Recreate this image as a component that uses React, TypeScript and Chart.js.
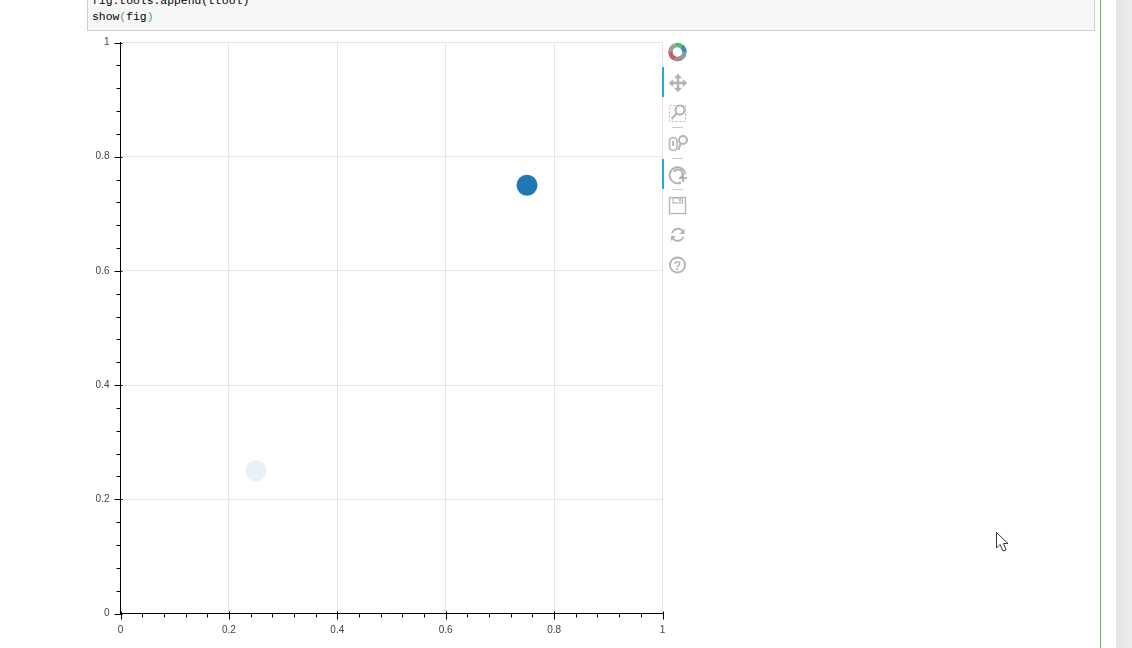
import React, { useEffect, useRef } from "react";
import { Chart, registerables } from "chart.js";

Chart.register(...registerables);

const pointX = [0.25, 0.75];
const pointY = [0.25, 0.75];
const pointColors = ["rgba(31,119,180,0.1)", "rgba(31,119,180,1)"];
const majorTicks = [0, 0.2, 0.4, 0.6, 0.8, 1];
const minorTicks = [0.04, 0.08, 0.12, 0.16, 0.24, 0.28, 0.32, 0.36, 0.44, 0.48, 0.52, 0.56, 0.64, 0.68, 0.72, 0.76, 0.84, 0.88, 0.92, 0.96];
const codeLines = ["fig.tools.append(ttool)"];

const axisTicks = {
  id: "axisTicks",
  afterDraw(chart: any) {
    const { ctx, scales } = chart;
    const xScale = scales.x;
    const yScale = scales.y;
    const xAxis = 613.5;
    const yAxis = 120.5;
    ctx.save();
    ctx.strokeStyle = "#000";
    ctx.lineWidth = 1;
    ctx.beginPath();
    const mark = (v: number, inner: number, outer: number) => {
      const px = Math.round(xScale.getPixelForValue(v)) + 0.5;
      ctx.moveTo(px, xAxis - inner);
      ctx.lineTo(px, xAxis + outer);
      const py = Math.round(yScale.getPixelForValue(v)) + 0.5;
      ctx.moveTo(yAxis - outer, py);
      ctx.lineTo(yAxis + inner, py);
    };
    majorTicks.forEach((v) => mark(v, 2, 6));
    minorTicks.forEach((v) => mark(v, 0, 4));
    ctx.stroke();
    ctx.restore();
  },
};

const tickLabel = (v: any) => {
  const hit = majorTicks.find((t) => Math.abs(t - Number(v)) < 1e-6);
  return hit === undefined ? "" : String(hit);
};

const ICON = "#b3b3b3";

function Toolbar() {
  return (
    <svg width={50} height={260} viewBox="0 0 50 260" style={{ position: "absolute", left: 655, top: 35 }}>
      <rect x={7} y={32} width={2} height={30} fill="#26aad1" />
      <rect x={7} y={124} width={2} height={30} fill="#26aad1" />
      <g fill="none" strokeWidth={4.5} transform="translate(22.5 17)">
        <path d="M-2 -6.6 A7 7 0 0 0 -7 0" stroke="#a59a9a" />
        <path d="M-7 0 A7 7 0 0 0 -2 6.6" stroke="#c65f68" />
        <path d="M-2 6.6 A7 7 0 0 0 5 5" stroke="#a58a8a" />
        <path d="M5 5 A7 7 0 0 0 7 0" stroke="#8d9aa0" />
        <path d="M7 0 A7 7 0 0 0 4 -5.7" stroke="#2f93bd" />
        <path d="M4 -5.7 A7 7 0 0 0 -2 -6.6" stroke="#5fb56a" />
      </g>
      <g stroke={ICON} strokeWidth={2.4} fill={ICON}>
        <path d="M23 40 V56 M15 48 H31" fill="none" />
        <path d="M23 39 l-3.5 4 h7z M23 57 l-3.5 -4 h7z M14 48 l4 -3.5 v7z M32 48 l-4 -3.5 v7z" strokeWidth={0.5} />
      </g>
      <rect x={14.5} y={70.5} width={16} height={16} fill="none" stroke={ICON} strokeDasharray="2 2" />
      <circle cx={25} cy={75} r={4.5} fill="#fff" stroke={ICON} strokeWidth={2} />
      <path d="M21.5 78.5 L16.5 84" stroke={ICON} strokeWidth={2.2} />
      <rect x={17} y={92} width={11} height={1} fill="#ccc" />
      <rect x={14.5} y={102.5} width={7.5} height={13} rx={3.7} fill="none" stroke={ICON} strokeWidth={1.6} />
      <rect x={17.2} y={106} width={2} height={5} fill={ICON} />
      <circle cx={28} cy={105} r={4} fill="#fff" stroke={ICON} strokeWidth={2} />
      <path d="M25.5 108.5 L23.5 115" stroke={ICON} strokeWidth={2} />
      <rect x={17} y={123} width={11} height={1} fill="#ccc" />
      <path d="M26 147.5 A8 8 0 1 1 30.5 139" fill="none" stroke={ICON} strokeWidth={2} />
      <path d="M25 143 A4.5 4.5 0 1 0 19 137" fill="none" stroke={ICON} strokeWidth={2} />
      <path d="M28 138 V147 M24 143 H32" stroke={ICON} strokeWidth={2} />
      <rect x={17} y={154} width={11} height={1} fill="#ccc" />
      <rect x={14.5} y={162.5} width={16} height={16} fill="none" stroke={ICON} strokeWidth={1.3} />
      <rect x={18} y={163} width={9.5} height={5} fill="none" stroke={ICON} strokeWidth={1.1} />
      <rect x={24} y={164} width={2} height={2.5} fill={ICON} />
      <path d="M17 198 A6.5 6.5 0 0 1 28 196 M28.5 202 A6.5 6.5 0 0 1 18 204" fill="none" stroke={ICON} strokeWidth={1.8} />
      <path d="M29.5 194 v5 h-5z M16 206 v-5 h5z" fill={ICON} />
      <circle cx={22.5} cy={230} r={7.5} fill="none" stroke={ICON} strokeWidth={1.8} />
      <text x={22.5} y={234.5} textAnchor="middle" fontFamily="Liberation Sans" fontWeight={700} fontSize={12} fill={ICON}>?</text>
    </svg>
  );
}

export default function App() {
  const ref = useRef<HTMLCanvasElement>(null);

  useEffect(() => {
    const chart = new Chart(ref.current as HTMLCanvasElement, {
      type: "scatter",
      data: {
        datasets: [
          {
            data: pointX.map((x, i) => ({ x, y: pointY[i] })),
            backgroundColor: pointColors,
            pointRadius: 10.5,
            pointBorderWidth: 0,
          },
        ],
      },
      plugins: [axisTicks],
      options: {
        animation: false,
        responsive: false,
        layout: { padding: { top: 42.5, right: 469.5, bottom: 0, left: 0 } },
        plugins: { legend: { display: false }, tooltip: { enabled: false } },
        scales: {
          x: {
            type: "linear",
            min: 0,
            max: 1,
            afterFit: (s: any) => { s.height = 34.5; },
            border: { color: "#000", width: 1 },
            grid: { color: "#e5e5e5", drawTicks: false },
            ticks: {
              stepSize: 0.2,
              maxRotation: 0,
              autoSkip: false,
              padding: 11,
              color: "#444",
              font: { family: "Liberation Sans", size: 10 },
              callback: tickLabel,
            },
          },
          y: {
            type: "linear",
            min: 0,
            max: 1,
            afterFit: (s: any) => { s.width = 120.5; },
            border: { color: "#000", width: 1 },
            grid: { color: "#e5e5e5", drawTicks: false },
            ticks: {
              stepSize: 0.2,
              autoSkip: false,
              padding: 11,
              color: "#444",
              font: { family: "Liberation Sans", size: 10 },
              callback: tickLabel,
            },
          },
        },
      },
    } as any);
    return () => chart.destroy();
  }, []);

  return (
    <div style={{ position: "fixed", left: 0, top: 0, width: 1132, height: 648, overflow: "hidden", background: "#fff" }}>
      <canvas ref={ref} width={1132} height={648} style={{ position: "absolute", left: 0, top: 0, width: 1132, height: 648 }} />
      <div
        style={{
          position: "absolute", left: 87, top: -20, width: 1008, height: 51, boxSizing: "border-box",
          background: "#f7f7f7", border: "1px solid #cfcfcf",
          fontFamily: "Liberation Mono", fontSize: 11.4, lineHeight: "16px", color: "#000", padding: "12px 0 0 4px",
        }}
      >
        <div>{codeLines[0]}</div>
        <div>show<span style={{ color: "#55aa55" }}>(</span>fig<span style={{ color: "#55aa55" }}>)</span></div>
      </div>
      <Toolbar />
      <div style={{ position: "absolute", left: 1100, top: 0, width: 1, height: 648, background: "#5cb85c" }} />
      <div style={{ position: "absolute", left: 1116, top: 0, width: 16, height: 648, background: "linear-gradient(90deg,#e4e4e4,#ececec)" }} />
      <svg width={14} height={22} style={{ position: "absolute", left: 995, top: 531 }}>
        <path d="M1.5 1.5 V17 L5 13.5 L8 20 L11 19 L8.5 12.5 L13 12.5 Z" fill="#fff" stroke="#2b3a4a" strokeWidth={1} />
      </svg>
    </div>
  );
}
